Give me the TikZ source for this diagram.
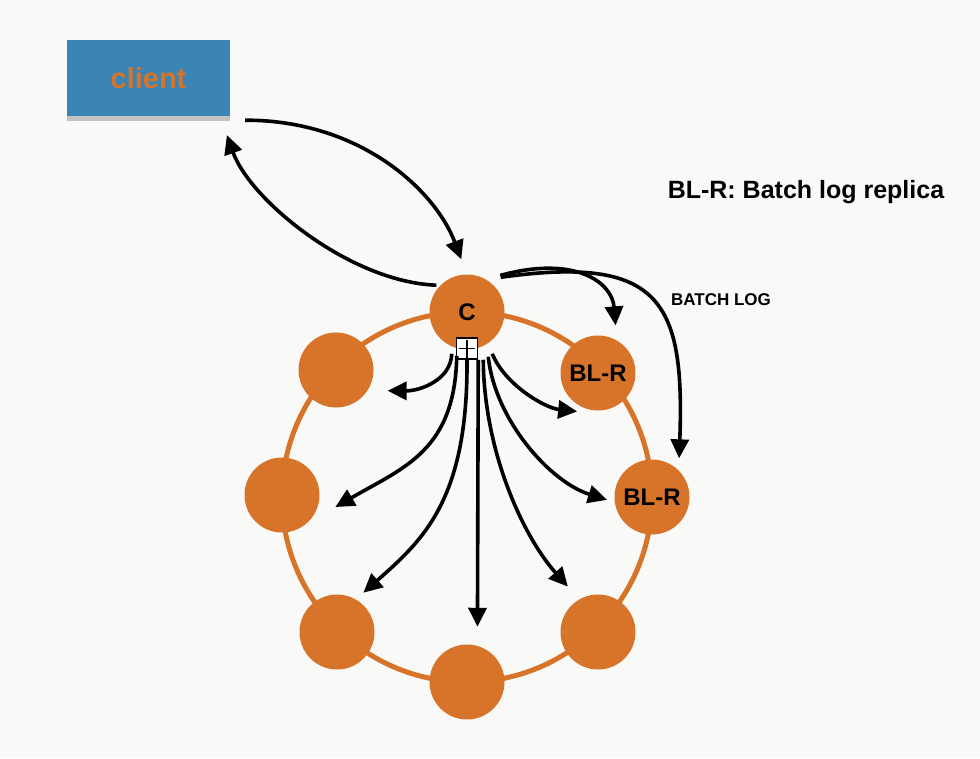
\documentclass[tikz,border=0pt]{standalone}
\usepackage{fontspec}
\setmainfont{Liberation Sans}
\usetikzlibrary{arrows.meta,shadows}
\definecolor{orangec}{RGB}{215,116,42}
\definecolor{bleuc}{RGB}{58,133,181}
\definecolor{fond}{RGB}{249,249,247}

\begin{document}
\begin{tikzpicture}[x=1pt,y=-1pt]
\tikzset{noeud/.style={circle, fill=orangec, minimum size=75pt, inner sep=0pt, font=\bfseries\fontsize{24}{28}\selectfont},
fleche/.style={line width=3.6pt, -{Triangle[length=19pt,width=18pt]}},
boite/.style={fill=bleuc, minimum width=163pt, minimum height=76pt, text=orangec, font=\bfseries\fontsize{29}{34}\selectfont, drop shadow={shadow xshift=0pt, shadow yshift=-5pt, opacity=0.45}}}
\fill[fond] (0,0) rectangle (980,758);
\useasboundingbox (0,0) rectangle (980,758);
\draw[orangec, line width=5pt] (467,497) circle (185pt);
\node[noeud] (C) at (467,312) {C};
\node[noeud] (BLR1) at (598,373) {BL-R};
\node[noeud] (BLR2) at (652,497) {BL-R};
\node[noeud] (N3) at (598,632) {};
\node[noeud] (N4) at (467,682) {};
\node[noeud] (N5) at (337,632) {};
\node[noeud] (N6) at (282,495) {};
\node[noeud] (N7) at (336,370) {};
\node[boite] (client) at (148.5,78) {client};
\node[font=\bfseries\fontsize{25}{30}\selectfont] (legende) at (806,192) {BL-R: Batch log replica};
\node[font=\bfseries\fontsize{17}{20}\selectfont] (batchlog) at (721,300) {BATCH LOG};
\node[draw, fill=white, line width=1.5pt, minimum size=21pt, inner sep=0pt] (hub) at (467,348.5) {};
% client et coordinateur
\draw[fleche, shorten >=16pt] ([xshift=15pt,yshift=-4pt]client.south east) .. controls (360,120) and (435,190) .. (C.north);
\draw[fleche, shorten <=4pt, shorten >=20pt] (C.135) .. controls (350,282) and (250,200) .. ([xshift=-10pt]client.south east);
% batch log
\draw[fleche, shorten <=15pt, shorten >=15pt] (C.60) .. controls (575,255) and (612,282) .. (BLR1.60);
\draw[fleche, shorten <=15pt, shorten >=12pt] (C.60) .. controls (660,255) and (685,300) .. (BLR2.45);
% ecritures
\draw[fleche, shorten >=20pt] ([xshift=-4pt,yshift=6pt]hub.south west) .. controls (451,380) and (420,391) .. (N7.-33);
\draw[fleche, shorten >=33pt] ([xshift=1pt,yshift=4pt]hub.south west) .. controls (455,450) and (405,467) .. (N6.-49);
\draw[fleche, shorten >=10pt] (hub.south) .. controls (468,500) and (423,540) .. (N5.60);
\draw[fleche, shorten >=19pt] (hub.south east) -- (N4.74);
\draw[fleche, shorten >=17pt] ([xshift=5pt]hub.south east) .. controls (484,450) and (522,535) .. (N3.120);
\draw[fleche, shorten >=8pt] ([xshift=10pt,yshift=3pt]hub.south east) .. controls (495,420) and (550,482) .. (BLR2.188);
\draw[fleche, shorten >=2pt] ([xshift=14pt,yshift=6pt]hub.south east) .. controls (505,385) and (545,408) .. ([yshift=-6pt]BLR1.-120);
\draw[line width=1.2pt] ([yshift=-3pt]hub.north) -- (hub.south) ([xshift=3pt]hub.west) -- ([xshift=-3pt]hub.east);
\end{tikzpicture}
\end{document}
